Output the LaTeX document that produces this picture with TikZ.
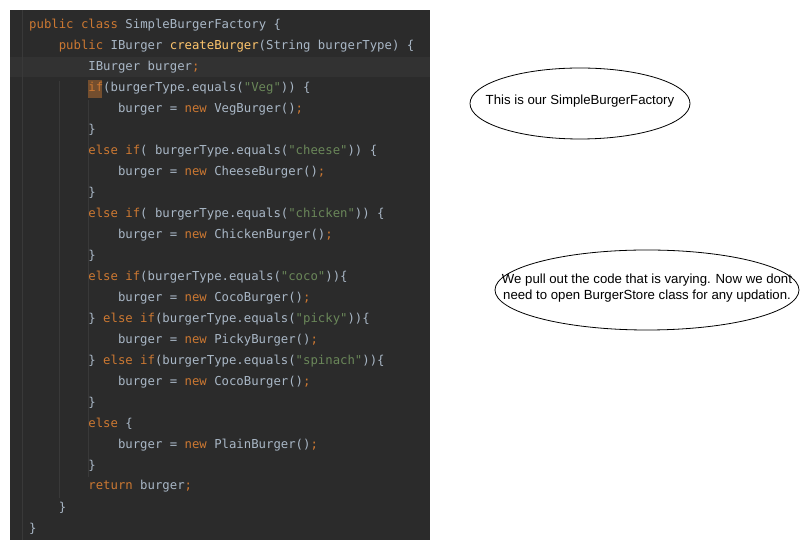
\documentclass[tikz,border=0pt]{standalone}
\usepackage{fontspec}
\setmainfont{Liberation Sans}
\newfontfamily\codefont{DejaVu Sans Mono}
\definecolor{bgc}{HTML}{2B2B2B}
\definecolor{hlc}{HTML}{323232}
\definecolor{kwc}{HTML}{CC7832}
\definecolor{txc}{HTML}{A9B7C6}
\definecolor{stc}{HTML}{6A8759}
\definecolor{fnc}{HTML}{FFC66D}
\definecolor{guide}{HTML}{393939}
\newcommand{\kw}[1]{\textcolor{kwc}{#1}}
\newcommand{\st}[1]{\textcolor{stc}{#1}}
\newcommand{\fnn}[1]{\textcolor{fnc}{#1}}
\begin{document}
\begin{tikzpicture}[x=1pt,y=1pt,
  code/.style={anchor=west,inner sep=0pt,text=txc,font=\codefont\fontsize{12.3}{14}\selectfont},
  note/.style={inner sep=0pt,font=\fontsize{13.2}{16}\selectfont,align=center},
  oval/.style={draw=black,thick}]
\useasboundingbox (0,0) rectangle (806,551);
\fill[white] (0,0) rectangle (806,551);
\fill[bgc] (10,11) rectangle (430,541);
\fill[hlc] (10,474) rectangle (430,494);
\draw[guide] (22,11) -- (22,541);
\draw[guide] (59,470) -- (59,53);
\draw[guide] (88,451) -- (88,74);
\fill[kwc!45!bgc] (88,453) rectangle (102,471);
\foreach [count=\i] \lv/\t in {
 0/{\kw{public class} SimpleBurgerFactory \{},
 1/{\kw{public} IBurger \fnn{createBurger}(String burgerType) \{},
 2/{IBurger burger\kw{;}},
 2/{\kw{if}(burgerType.equals(\st{"Veg"})) \{},
 3/{burger = \kw{new} VegBurger()\kw{;}},
 2/{\}},
 2/{\kw{else if}( burgerType.equals(\st{"cheese"})) \{},
 3/{burger = \kw{new} CheeseBurger()\kw{;}},
 2/{\}},
 2/{\kw{else if}( burgerType.equals(\st{"chicken"})) \{},
 3/{burger = \kw{new} ChickenBurger()\kw{;}},
 2/{\}},
 2/{\kw{else if}(burgerType.equals(\st{"coco"}))\{},
 3/{burger = \kw{new} CocoBurger()\kw{;}},
 2/{\} \kw{else if}(burgerType.equals(\st{"picky"}))\{},
 3/{burger = \kw{new} PickyBurger()\kw{;}},
 2/{\} \kw{else if}(burgerType.equals(\st{"spinach"}))\{},
 3/{burger = \kw{new} CocoBurger()\kw{;}},
 2/{\}},
 2/{\kw{else} \{},
 3/{burger = \kw{new} PlainBurger()\kw{;}},
 2/{\}},
 2/{\kw{return} burger\kw{;}},
 1/{\}},
 0/{\}}}
 \node[code] (l\i) at ({29+29.6*\lv},{551-25.5-20.96*(\i-1)}) {\t};
\draw[oval] (580,447.5) ellipse [x radius=110, y radius=35.5];
\node[note] (n1) at (580,450) {This is our SimpleBurgerFactory};
\draw[oval] (647,261) ellipse [x radius=152, y radius=40];
\node[note] (n2) at (647,263) {We pull out the code that is varying. Now we dont\\need to open BurgerStore class for any updation.};
\end{tikzpicture}
\end{document}
